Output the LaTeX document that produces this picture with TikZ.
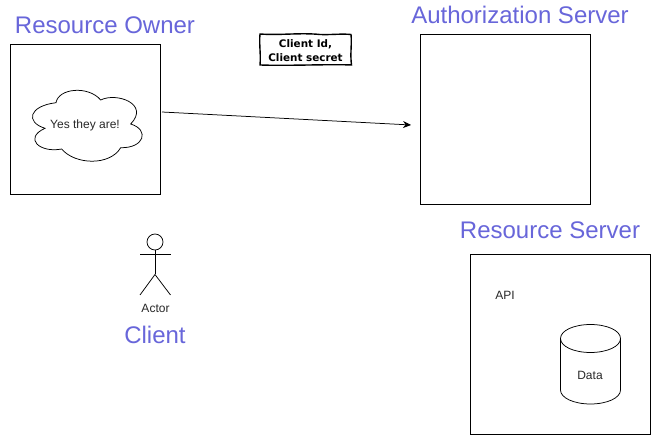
\documentclass[tikz,border=0pt]{standalone}
\usepackage{fontspec}
\setmainfont{Liberation Sans}
\newfontfamily\comicface{DejaVu Sans}
\usetikzlibrary{arrows.meta}
\definecolor{headblue}{RGB}{104,102,218}
\definecolor{labelgrey}{RGB}{40,40,40}
\tikzset{
  x=1pt,y=-1pt,
  box/.style={draw=black,line width=1pt,fill=white,minimum width=#1,minimum height=#1,inner sep=0pt,anchor=north west},
  title/.style={text=headblue,font=\fontsize{24}{28}\selectfont,inner sep=0pt,anchor=center},
  small/.style={text=labelgrey,font=\fontsize{12}{14}\selectfont,inner sep=0pt,anchor=center},
  thin line/.style={draw=black,line width=0.75pt}
}
\begin{document}
\begin{tikzpicture}
\useasboundingbox (0,0) rectangle (651,435);
\fill[white] (0,0) rectangle (651,435);
% boxes
\node[box=150pt] (owner) at (9.8,43.8) {};
\node[box=170pt] (auth) at (419.8,34.5) {};
\node[box=180pt] (res) at (469.8,253.8) {};
% titles
\node[title] (townerlabel) at (105,25) {Resource Owner};
\node[title] (tauthlabel) at (520,15) {Authorization Server};
\node[title] (treslabel) at (550,230) {Resource Server};
\node[title] (tclientlabel) at (155,335) {Client};
% cloud
\draw[thin line,fill=white] (56,102.7)
  .. controls (58.5,88) and (88.5,85.5) .. (100.7,100)
  .. controls (116.7,92) and (150,104) .. (130.7,124)
  .. controls (150,130) and (144,148.3) .. (120.7,147.7)
  .. controls (110,166) and (75,165) .. (61.7,149)
  .. controls (40,153.3) and (23,138.3) .. (45,128.3)
  .. controls (25,122) and (29,106) .. (56,102.7) -- cycle;
\node[small] (cloudtext) at (85,125) {Yes they are!};
% arrow
\coordinate (astart) at (162,112);
\coordinate (aend) at (411,125);
\draw[thin line,-{Stealth[length=8pt,width=7pt]}] (astart) -- (aend);
% note
\draw[black,line width=1.4pt,fill=white] (260,34) .. controls (280,35.5) and (300,32.5) .. (320,34.5)
  .. controls (330,35) and (342,33.5) .. (351,34.5)
  .. controls (352,44) and (350,54) .. (351.5,65)
  .. controls (330,64) and (290,66) .. (260,65)
  .. controls (261,55) and (259,44) .. (260,34) -- cycle;
\node[inner sep=0pt,align=center,font=\comicface\bfseries\fontsize{10.4}{14}\selectfont] (note) at (305.5,50.5) {Client Id,\\Client secret};
% actor
\node[circle,draw=black,line width=0.75pt,minimum size=16pt,inner sep=0pt] (head) at (155,242) {};
\coordinate (hip) at (155,274.5);
\coordinate (larm) at (140,254);
\coordinate (rarm) at (170.5,254);
\coordinate (lleg) at (140,295);
\coordinate (rleg) at (170.5,295);
\draw[thin line] (head.south) -- (hip);
\draw[thin line] (larm) -- (rarm);
\draw[thin line] (lleg) -- (hip) -- (rleg);
\node[small] (actor) at (155.5,308) {Actor};
% API
\node[small] (api) at (505,295) {API};
% cylinder
\draw[thin line,fill=white] (560.5,338.5)
  .. controls (560.5,330.5) and (574,324.5) .. (590.5,324.5)
  .. controls (607,324.5) and (620.5,330.5) .. (620.5,338.5)
  -- (620.5,390)
  .. controls (620.5,398) and (607,404) .. (590.5,404)
  .. controls (574,404) and (560.5,398) .. (560.5,390) -- cycle;
\draw[thin line] (560.5,338.5)
  .. controls (560.5,346.5) and (574,352.5) .. (590.5,352.5)
  .. controls (607,352.5) and (620.5,346.5) .. (620.5,338.5);
\node[small] (data) at (590,375) {Data};
\end{tikzpicture}
\end{document}
